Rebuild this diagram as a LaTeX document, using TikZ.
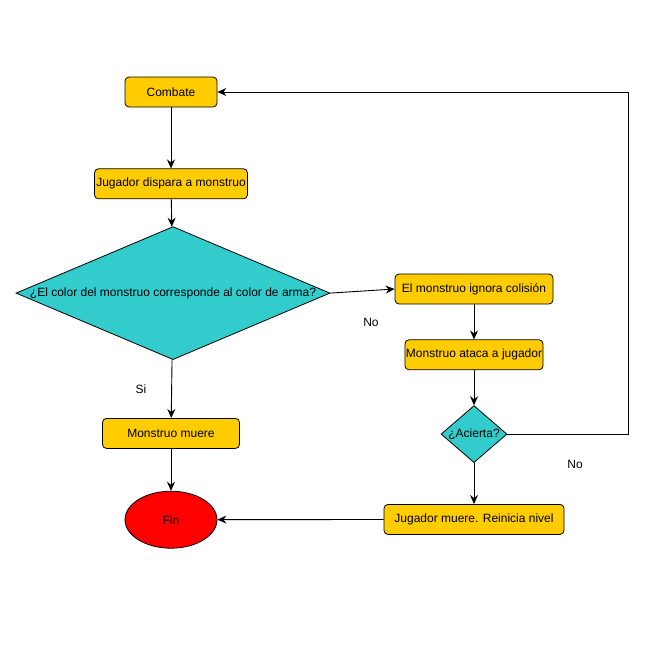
\documentclass[tikz,border=0pt]{standalone}
\usepackage{fontspec}
\setmainfont{Liberation Sans}
\usetikzlibrary{arrows.meta, positioning, shapes.geometric}

\definecolor{boxyellow}{HTML}{FFCC00}
\definecolor{decteal}{HTML}{33CCCC}
\definecolor{endred}{HTML}{FF0000}

\begin{document}
\begin{tikzpicture}[
    x=1pt, y=1pt,
    font=\fontsize{12}{14}\selectfont,
    box/.style={draw, rounded corners=4pt, align=center, fill=boxyellow,
                minimum height=30pt, inner sep=1pt, line width=0.8pt},
    decision/.style={draw, diamond, fill=decteal, inner sep=0pt, line width=0.8pt},
    arrow/.style={-{Stealth[length=9pt, width=8pt, inset=3pt]}, line width=0.9pt},
    tag/.style={inner sep=0pt}
]
\useasboundingbox (0,0) rectangle (658,-651);

% left column
\node[box, minimum width=92pt] (combate) at (171,-92) {Combate};
\node[box, minimum width=153pt, below=61pt of combate] (dispara)
    {Jugador dispara a monstruo};
\node[decision, minimum width=314pt, minimum height=133pt, aspect=2.36,
      below=27pt of dispara, xshift=2pt] (color)
    {¿El color del monstruo corresponde al color de arma?};
\node[box, minimum width=137pt, below=58pt of color, xshift=-2pt] (muere)
    {Monstruo muere};
\node[draw, ellipse, fill=endred, minimum width=92pt, minimum height=57pt,
      line width=0.8pt, below=42pt of muere] (fin) {Fin};

% right column
\node[box, minimum width=158pt] (ignora) at (474,-289)
    {El monstruo ignora colisión};
\node[box, minimum width=137pt, below=35pt of ignora] (ataca)
    {Monstruo ataca a jugador};
\node[decision, minimum width=66pt, minimum height=57pt, aspect=1.16,
      below=35pt of ataca] (acierta) {¿Acierta?};
\node[box, minimum width=180pt, below=41pt of acierta] (reinicia)
    {Jugador muere. Reinicia nivel};

\coordinate (corner) at (628,-92);

\draw[arrow] (combate) -- (dispara);
\draw[arrow] (dispara) -- (color);
\draw[arrow] (color) -- (muere);
\draw[arrow] (muere) -- (fin);
\draw[arrow] (color.east) -- (ignora.west);
\draw[arrow] (ignora) -- (ataca);
\draw[arrow] (ataca) -- (acierta);
\draw[arrow] (acierta) -- (reinicia);
\draw[arrow] (reinicia) -- (fin);
\draw[arrow] (acierta.east) -| (corner) -- (combate.east);

% branch labels
\node[tag] (si) at (141,-389) {Si};
\node[tag] (no1) at (371,-322) {No};
\node[tag] (no2) at (575,-464) {No};

\end{tikzpicture}
\end{document}
